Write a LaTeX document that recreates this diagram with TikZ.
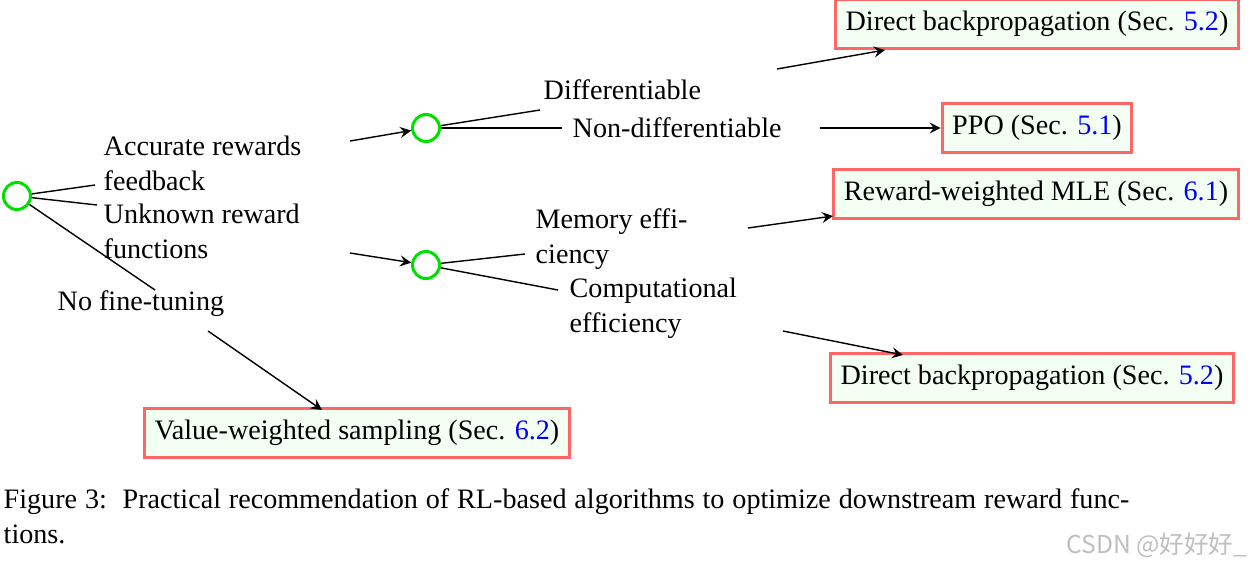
\documentclass[tikz,border=0pt]{standalone}
\usepackage{fontspec}
\setmainfont{Liberation Serif}
\newfontfamily\cjkf{Noto Sans CJK SC}
\begin{document}
\begin{tikzpicture}[x=0.01cm,y=-0.01cm,font=\fontsize{8}{10}\selectfont,
  lbl/.style={anchor=west,inner sep=0pt,align=left},
  box/.style={draw=red!60!white,line width=0.03cm,fill=green!5,inner xsep=0.1cm,inner ysep=0.12cm},
  dot/.style={circle,draw=green!80!black!60!green,line width=0.03cm,minimum size=0.27cm,inner sep=0pt},
  arr/.style={-stealth,thin},
  ln/.style={thin}]
\useasboundingbox (0,0) rectangle (1252,566);
\node[dot] (r) at (17,196) {};
\node[dot] (c2) at (426,128) {};
\node[dot] (c3) at (426,265) {};
\node[lbl] (acc) at (103,163) {Accurate rewards\\feedback};
\node[lbl] (unk) at (103,231) {Unknown reward\\functions};
\node[lbl] (nof) at (57,304) {No fine-tuning};
\node[lbl] (dif) at (543,90) {Differentiable};
\node[lbl] (ndif) at (572,128) {Non-differentiable};
\node[lbl] (mem) at (535,239) {Memory effi-\\ciency};
\node[lbl] (comp) at (569,308) {Computational\\efficiency};
\node[box] (b1) at (1037,24) {Direct backpropagation (Sec. \textcolor{blue}{5.2})};
\node[box] (b2) at (1037,128) {PPO (Sec. \textcolor{blue}{5.1})};
\node[box] (b3) at (1036,194) {Reward-weighted MLE (Sec. \textcolor{blue}{6.1})};
\node[box] (b4) at (1032,378) {Direct backpropagation (Sec. \textcolor{blue}{5.2})};
\node[box] (b5) at (357,433) {Value-weighted sampling (Sec. \textcolor{blue}{6.2})};
\coordinate (e1) at (95,185); \coordinate (e2) at (97,205); \coordinate (e3) at (155,290);
\draw[ln] (r) -- (e1); \draw[ln] (r) -- (e2); \draw[ln] (r) -- (e3);
\coordinate (a1) at (350,141); \draw[arr] (a1) -- (c2);
\coordinate (a2) at (350,253); \draw[arr] (a2) -- (c3);
\coordinate (d1) at (540,110); \coordinate (d2) at (562,128);
\draw[ln] (c2) -- (d1); \draw[ln] (c2) -- (d2);
\coordinate (m1) at (525,254); \coordinate (m2) at (558,290);
\draw[ln] (c3) -- (m1); \draw[ln] (c3) -- (m2);
\coordinate (s1) at (777,69); \coordinate (t1) at (885,50); \draw[arr] (s1) -- (t1);
\coordinate (s2) at (820,128); \draw[arr] (s2) -- (b2);
\coordinate (s3) at (748,228); \coordinate (t3) at (833,216); \draw[arr] (s3) -- (t3);
\coordinate (s4) at (783,331); \coordinate (t4) at (903,355); \draw[arr] (s4) -- (t4);
\coordinate (s5) at (208,331); \coordinate (t5) at (322,410); \draw[arr] (s5) -- (t5);
\node[anchor=west,inner sep=0pt,text width=11.25cm,align=justify] (cap) at (3,516)
 {Figure 3:\ \ Practical recommendation of RL-based algorithms to optimize downstream reward functions.};
\node[anchor=east,inner sep=0pt,text=gray!50,font=\fontsize{7}{8}\cjkf] (wm) at (1248,545) {CSDN @好好好\_};
\end{tikzpicture}
\end{document}
